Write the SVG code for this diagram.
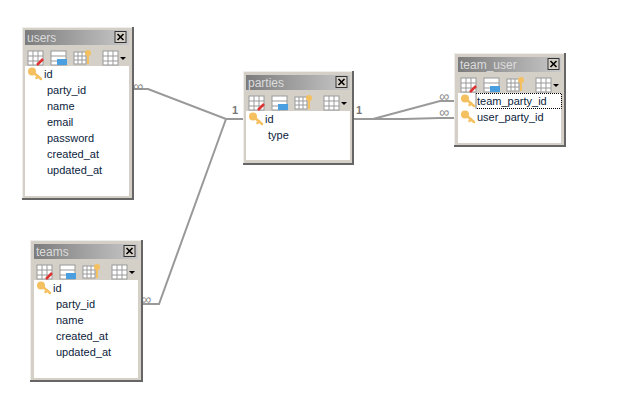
<svg xmlns="http://www.w3.org/2000/svg" width="620" height="418" viewBox="0 0 620 418">
<style>
text{font-family:"Liberation Sans",Arial,sans-serif;font-size:11px;fill:#0c1c3c}
.t{font-size:12px;fill:#dcdcdc}
.c{fill:none;stroke:#999;stroke-width:2}
.n{font-size:11px;font-weight:bold;fill:#777}
.i{font-size:14px;fill:#8a8a8a}
.o{fill:#d4d0c8;stroke:#eeeeea;stroke-width:1}
.g{fill:#fff;stroke:#777;stroke-width:1}
.b{fill:#fff;stroke:#999;stroke-width:1}
.x{fill:#d4d0c8;stroke:#333;stroke-width:1}
.xl{stroke:#000;stroke-width:1.6;fill:none}
.k{fill:none;stroke:#f4c060;stroke-width:2.5;stroke-linecap:round}
.kh{fill:#f4c060}
</style>
<defs>
<linearGradient id="tb"><stop offset="0" stop-color="#7c7c7c"/><stop offset="1" stop-color="#c8c8c8"/></linearGradient>
<g id="tools">
<g class="b"><rect x="0" y="0" width="15" height="14"/><path d="M0 5H15M0 10H15M5 0V14M10 0V14"/></g>
<path d="M9 14L15 8" stroke="#d33" stroke-width="2.5" fill="none"/>
<g class="b"><rect x="23" y="0" width="15" height="14"/><path d="M23 5H38M23 10H38"/></g>
<rect x="29" y="8" width="10" height="6" fill="#4a9fe0"/>
<g class="b"><rect x="46" y="1" width="12" height="12"/><path d="M46 5H58M46 9H58M50 1V13M54 1V13"/></g>
<circle cx="60" cy="2" r="3" fill="#f4c060"/><rect x="59" y="3" width="2" height="10" fill="#f4c060"/>
<g class="b"><rect x="75" y="0" width="15" height="14"/><path d="M75 5H90M75 10H90M80 0V14M85 0V14"/></g>
<path d="M92 6H98L95 9Z" fill="#000"/>
</g>
<g id="key"><circle cx="5" cy="4.500" r="4" class="kh"/><path d="M7 6L14 12M11 9L9.500 11" class="k"/></g>
<g id="close"><rect width="11" height="11" class="x"/><path d="M2.500 2.500L8.500 8.500M8.500 2.500L2.500 8.500" class="xl"/></g>
</defs>

<g id="connectors">
<path class="c" d="M133 89H148L226 119H243"/>
<path class="c" d="M226 119L159 304H142"/>
<path class="c" d="M353 119H373L440 101H454"/>
<path class="c" d="M353 119H404L440 118H454"/>
<text class="i" x="133" y="91">∞</text>
<text class="i" x="141" y="304">∞</text>
<text class="i" x="439" y="101">∞</text>
<text class="i" x="439" y="117">∞</text>
<text class="n" x="232" y="114">1</text>
<text class="n" x="356" y="114">1</text>
</g>

<g id="users">
<rect x="22.500" y="27.500" width="110" height="171" class="o"/>
<path d="M133 27V199H22" fill="none" stroke="#666" stroke-width="2"/>
<rect x="25" y="30" width="104" height="15" fill="url(#tb)"/>
<text class="t" x="27" y="42">users</text>
<use href="#close" x="115" y="31.500"/>
<use href="#tools" x="28" y="51"/>
<rect x="25" y="66" width="104" height="130" fill="#fff"/>
<use href="#key" x="27" y="67"/>
<text x="44" y="78">id</text><text x="47" y="94">party_id</text><text x="47" y="110">name</text><text x="47" y="126">email</text><text x="47" y="142">password</text><text x="47" y="158">created_at</text><text x="47" y="174">updated_at</text>
</g>

<g id="teams">
<rect x="30.500" y="240.500" width="111" height="140" class="o"/>
<path d="M142 240V381H30" fill="none" stroke="#666" stroke-width="2"/>
<rect x="34" y="244" width="104" height="15" fill="url(#tb)"/>
<text class="t" x="36" y="256">teams</text>
<use href="#close" x="124" y="245.500"/>
<use href="#tools" x="37" y="265"/>
<rect x="34" y="280" width="104" height="98" fill="#fff"/>
<use href="#key" x="36" y="281"/>
<text x="53" y="292">id</text><text x="56" y="308">party_id</text><text x="56" y="324">name</text><text x="56" y="340">created_at</text><text x="56" y="356">updated_at</text>
</g>

<g id="parties">
<rect x="243.500" y="71.500" width="109" height="92" class="o"/>
<path d="M353 71V164H243" fill="none" stroke="#666" stroke-width="2"/>
<rect x="246" y="75" width="104" height="15" fill="url(#tb)"/>
<text class="t" x="248" y="87">parties</text>
<use href="#close" x="336" y="76.500"/>
<use href="#tools" x="249" y="96"/>
<rect x="246" y="111" width="104" height="49" fill="#fff"/>
<use href="#key" x="248" y="112"/>
<text x="265" y="123">id</text><text x="268" y="139">type</text>
</g>

<g id="team_user">
<rect x="454.500" y="53.500" width="110" height="92" class="o"/>
<path d="M565 53V146H454" fill="none" stroke="#666" stroke-width="2"/>
<rect x="458" y="57" width="103" height="15" fill="url(#tb)"/>
<text class="t" x="460" y="69">team_user</text>
<use href="#close" x="548" y="58.500"/>
<use href="#tools" x="461" y="78"/>
<rect x="458" y="93" width="103" height="50" fill="#fff"/>
<use href="#key" x="460" y="94"/>
<use href="#key" x="460" y="110"/>
<rect x="476" y="93.500" width="85.500" height="15" fill="none" stroke="#000" stroke-dasharray="1 1"/>
<text x="477" y="105">team_party_id</text><text x="477" y="121">user_party_id</text>
</g>
</svg>
